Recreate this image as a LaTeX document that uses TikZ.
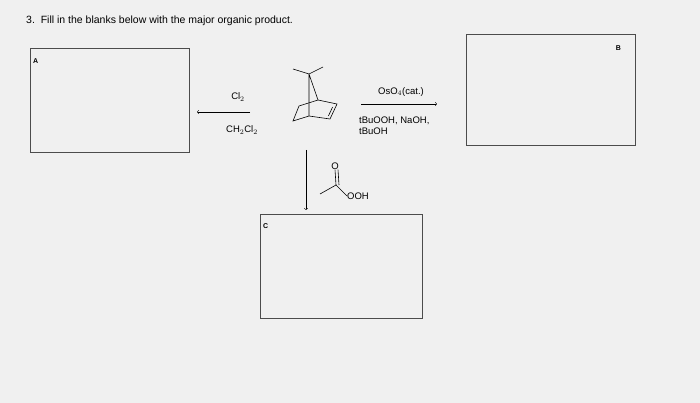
\documentclass[tikz,border=0pt]{standalone}
\usepackage{fontspec}
\setmainfont{Liberation Sans}
\usetikzlibrary{calc}
\begin{document}
\begin{tikzpicture}[x=1pt,y=-1pt,
 box/.style={draw=black!70,line width=0.6pt},
 lbl/.style={font=\fontsize{7}{8}\selectfont\bfseries,inner sep=1pt},
 txt/.style={font=\fontsize{9.5}{11}\selectfont,inner sep=0pt},
 bond/.style={line width=0.6pt}]
\fill[black!6] (0,0) rectangle (700,403);
\useasboundingbox (0,0) rectangle (700,403);
\node[txt,anchor=west,font=\fontsize{10.5}{12}\selectfont] (title) at (26,21) {3.\ \ Fill in the blanks below with the major organic product.};
\draw[box] (30,48) rectangle (189,152);
\node[lbl,anchor=north west] (la) at (32,57) {A};
\draw[box] (466,34) rectangle (635,145);
\node[lbl,anchor=north east] (lb) at (622,44) {B};
\draw[box] (260,214) rectangle (422,318);
\node[lbl,anchor=north west] (lc) at (262,222) {C};
% molecule
\coordinate (c7) at (309,74);
\coordinate (m1) at (293,69);
\coordinate (m2) at (323,67);
\coordinate (c1) at (318,100);
\coordinate (c4) at (309,116);
\coordinate (a) at (299,106);
\coordinate (b) at (293,121);
\coordinate (d) at (337,104);
\coordinate (e) at (330,119);
\draw[bond] (m1)--(c7)--(m2);
\draw[bond] (c7)--(c1) (c7)--(c4);
\draw[bond] (c1)--(a)--(b)--(c4);
\draw[bond] (c1)--(d)--(e)--(c4);
\draw[bond] ($(d)!0.2!(e)+(-3,0)$)--($(d)!0.8!(e)+(-3,0)$);
\draw[->,line width=0.5pt] (250,112) -- (197,112);
\node[txt] (cl2) at (238,97) {Cl$_2$};
\node[txt] (ch) at (242,130) {CH$_2$Cl$_2$};
\draw[->,line width=0.5pt] (361,104) -- (437,104);
\node[txt] (os) at (401,92) {OsO$_4$(cat.)};
\node[txt,anchor=north west,align=left] (tb) at (359,117) {tBuOOH, NaOH,\\tBuOH};
\draw[->,line width=0.5pt] (306,150) -- (306,210);
% peracid
\coordinate (cc) at (336,185);
\coordinate (me) at (320,194);
\node[txt] (o) at (335,166) {O};
\node[txt,anchor=west] (ooh) at (347,196) {OOH};
\draw[bond] (me)--(cc)--(ooh.west);
\draw[bond] (cc)--(o.south) ($(cc)+(3,0)$)--($(o.south)+(3,0)$);
\end{tikzpicture}
\end{document}
